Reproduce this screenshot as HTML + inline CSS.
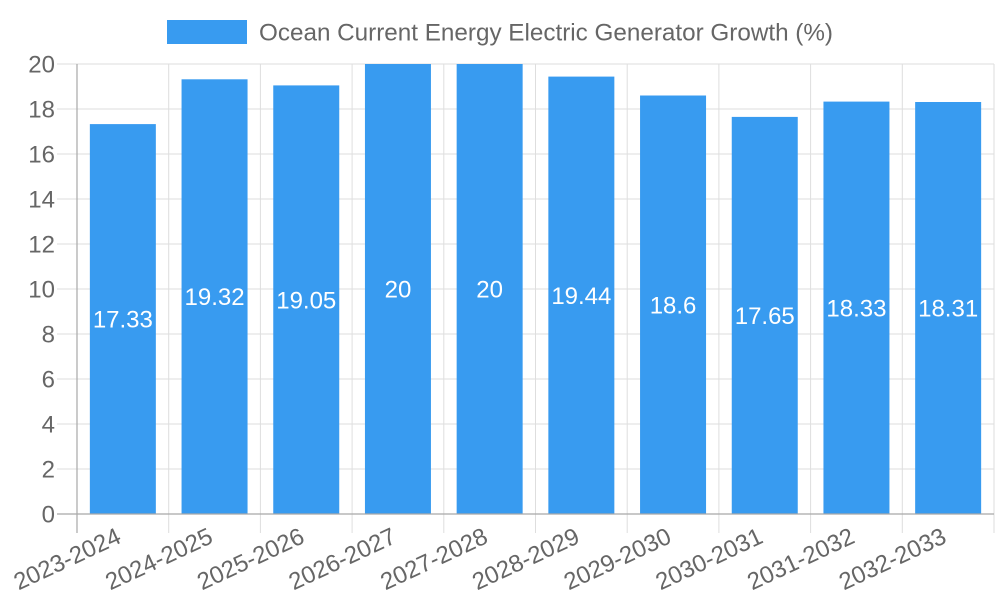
<!DOCTYPE html>
<html>
<head>
<meta charset="utf-8">
<style>
html,body{margin:0;padding:0;background:#fff;}
svg{display:block;}
text{font-family:"Liberation Sans",Arial,sans-serif;}
</style>
</head>
<body>
<svg width="1000" height="600" viewBox="0 0 1000 600" xmlns="http://www.w3.org/2000/svg">
  <!-- legend -->
  <rect x="167" y="20" width="80" height="24" fill="#389BF0"/>
  <text x="259" y="40.5" font-size="24" fill="#666" textLength="574" lengthAdjust="spacingAndGlyphs">Ocean Current Energy Electric Generator Growth (%)</text>

  <!-- horizontal grid -->
  <g stroke="#dedede" stroke-width="1">
    <line x1="57" y1="64" x2="994" y2="64"/>
    <line x1="57" y1="109" x2="994" y2="109"/>
    <line x1="57" y1="154" x2="994" y2="154"/>
    <line x1="57" y1="199" x2="994" y2="199"/>
    <line x1="57" y1="244" x2="994" y2="244"/>
    <line x1="57" y1="289" x2="994" y2="289"/>
    <line x1="57" y1="334" x2="994" y2="334"/>
    <line x1="57" y1="379" x2="994" y2="379"/>
    <line x1="57" y1="424" x2="994" y2="424"/>
    <line x1="57" y1="469" x2="994" y2="469"/>
  </g>
  <!-- vertical grid -->
  <g stroke="#dedede" stroke-width="1">
    <line x1="168.7" y1="64" x2="168.7" y2="533"/>
    <line x1="260.4" y1="64" x2="260.4" y2="533"/>
    <line x1="352.1" y1="64" x2="352.1" y2="533"/>
    <line x1="443.8" y1="64" x2="443.8" y2="533"/>
    <line x1="535.5" y1="64" x2="535.5" y2="533"/>
    <line x1="627.2" y1="64" x2="627.2" y2="533"/>
    <line x1="718.9" y1="64" x2="718.9" y2="533"/>
    <line x1="810.6" y1="64" x2="810.6" y2="533"/>
    <line x1="902.3" y1="64" x2="902.3" y2="533"/>
    <line x1="994" y1="64" x2="994" y2="533"/>
  </g>

  <!-- bars -->
  <g fill="#389BF0">
    <rect x="89.85" y="124.1" width="66" height="389.9"/>
    <rect x="181.55" y="79.3" width="66" height="434.7"/>
    <rect x="273.25" y="85.4" width="66" height="428.6"/>
    <rect x="364.95" y="64" width="66" height="450"/>
    <rect x="456.65" y="64" width="66" height="450"/>
    <rect x="548.35" y="76.6" width="66" height="437.4"/>
    <rect x="640.05" y="95.5" width="66" height="418.5"/>
    <rect x="731.75" y="116.9" width="66" height="397.1"/>
    <rect x="823.45" y="101.6" width="66" height="412.4"/>
    <rect x="915.15" y="102.0" width="66" height="412.0"/>
  </g>

  <!-- axes -->
  <line x1="77" y1="64" x2="77" y2="533" stroke="#a8a8a8" stroke-width="1.2"/>
  <line x1="57" y1="514" x2="994" y2="514" stroke="#a8a8a8" stroke-width="1.2"/>

  <!-- bar labels -->
  <g font-size="24" fill="#fff" text-anchor="middle">
    <text x="122.85" y="327.6">17.33</text>
    <text x="214.55" y="305.2">19.32</text>
    <text x="306.25" y="308.3">19.05</text>
    <text x="397.95" y="297.6">20</text>
    <text x="489.65" y="297.6">20</text>
    <text x="581.35" y="303.9">19.44</text>
    <text x="673.05" y="313.3">18.6</text>
    <text x="764.75" y="324.0">17.65</text>
    <text x="856.45" y="316.4">18.33</text>
    <text x="948.15" y="316.6">18.31</text>
  </g>

  <!-- y labels -->
  <g font-size="24" fill="#666" text-anchor="end">
    <text x="55" y="72.6">20</text>
    <text x="55" y="117.6">18</text>
    <text x="55" y="162.6">16</text>
    <text x="55" y="207.6">14</text>
    <text x="55" y="252.6">12</text>
    <text x="55" y="297.6">10</text>
    <text x="55" y="342.6">8</text>
    <text x="55" y="387.6">6</text>
    <text x="55" y="432.6">4</text>
    <text x="55" y="477.6">2</text>
    <text x="55" y="522.6">0</text>
  </g>

  <!-- x labels -->
  <g font-size="24" fill="#666" text-anchor="end">
    <text transform="translate(122.6,542) rotate(-25)">2023-2024</text>
    <text transform="translate(214.3,542) rotate(-25)">2024-2025</text>
    <text transform="translate(306,542) rotate(-25)">2025-2026</text>
    <text transform="translate(397.7,542) rotate(-25)">2026-2027</text>
    <text transform="translate(489.4,542) rotate(-25)">2027-2028</text>
    <text transform="translate(581.1,542) rotate(-25)">2028-2029</text>
    <text transform="translate(672.8,542) rotate(-25)">2029-2030</text>
    <text transform="translate(764.5,542) rotate(-25)">2030-2031</text>
    <text transform="translate(856.2,542) rotate(-25)">2031-2032</text>
    <text transform="translate(947.9,542) rotate(-25)">2032-2033</text>
  </g>
</svg>
</body>
</html>
